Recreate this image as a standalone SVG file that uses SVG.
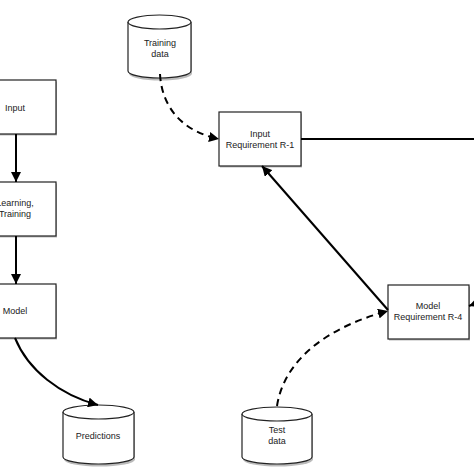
<svg xmlns="http://www.w3.org/2000/svg" width="474" height="474" viewBox="0 0 474 474">
<defs>
<marker id="ah" viewBox="0 0 10 10" refX="10" refY="5" markerWidth="5" markerHeight="5" orient="auto" markerUnits="strokeWidth">
<path d="M0,0 L10,5 L0,10 Z" fill="#000"/>
</marker>
</defs>
<style>
.box{fill:#fff;stroke:#222;stroke-width:1.2}
.shadow{fill:#bbb;stroke:none}
.t{font-family:"Liberation Sans",Arial,sans-serif;font-size:9px;fill:#222;text-anchor:middle}
.c{fill:none;stroke:#000;stroke-width:2}
.d{fill:none;stroke:#000;stroke-width:2;stroke-dasharray:7,5}
</style>
<rect width="474" height="474" fill="#fff"/>
<g id="input">
<rect class="shadow" x="-26" y="81.5" width="83" height="54"/>
<rect class="box" x="-27" y="80" width="83" height="54"/>
<text class="t" x="15" y="111">Input</text>
</g>
<g id="learning">
<rect class="shadow" x="-26" y="183.5" width="83" height="54"/>
<rect class="box" x="-27" y="182" width="83" height="54"/>
<text class="t" x="15" y="206">Learning,</text>
<text class="t" x="15" y="217">Training</text>
</g>
<g id="model">
<rect class="shadow" x="-26" y="285.5" width="83" height="54"/>
<rect class="box" x="-27" y="284" width="83" height="54"/>
<text class="t" x="15" y="314">Model</text>
</g>
<g id="req1">
<rect class="shadow" x="220" y="113.5" width="82" height="54"/>
<rect class="box" x="219" y="112" width="82" height="54"/>
<text class="t" x="260" y="137">Input</text>
<text class="t" x="260" y="148">Requirement R-1</text>
</g>
<g id="req4">
<rect class="shadow" x="389" y="286.5" width="81" height="54"/>
<rect class="box" x="388" y="285" width="81" height="54"/>
<text class="t" x="428" y="309">Model</text>
<text class="t" x="428" y="320">Requirement R-4</text>
</g>
<g id="training-data">
<path class="shadow" d="M129,22 V72 A31,7 0 0 0 192,72 V22 Z" transform="translate(0,1.5)"/>
<path class="box" d="M128,22 V71 A31.5,7 0 0 0 191,71 V22"/>
<ellipse class="box" cx="159.5" cy="22" rx="31.5" ry="7"/>
<text class="t" x="160" y="46">Training</text>
<text class="t" x="160" y="57">data</text>
</g>
<g id="test-data">
<path class="shadow" d="M243,414 V458 A35,7 0 0 0 313,458 V414 Z" transform="translate(0,1.5)"/>
<path class="box" d="M242,414 V457 A35,7 0 0 0 312,457 V414"/>
<ellipse class="box" cx="277" cy="414" rx="35" ry="7"/>
<text class="t" x="277" y="433">Test</text>
<text class="t" x="277" y="444">data</text>
</g>
<g id="predictions">
<path class="shadow" d="M64,412 V458 A35.5,7 0 0 0 135,458 V412 Z" transform="translate(0,1.5)"/>
<path class="box" d="M63,412 V457 A35.5,7 0 0 0 134,457 V412"/>
<ellipse class="box" cx="98.5" cy="412" rx="35.5" ry="7"/>
<text class="t" x="98" y="439">Predictions</text>
</g>
<g id="connectors">
<line class="c" x1="16" y1="134" x2="16" y2="182" marker-end="url(#ah)"/>
<line class="c" x1="16" y1="236" x2="16" y2="284" marker-end="url(#ah)"/>
<path class="c" d="M15,338 C28,370 60,395 98,405" marker-end="url(#ah)"/>
<line class="c" x1="301" y1="139" x2="476" y2="139"/>
<line class="c" x1="388" y1="310" x2="262" y2="166" marker-end="url(#ah)"/>
<path class="d" d="M160,74 C162,110 185,132 219,139" marker-end="url(#ah)"/>
<path class="d" d="M277,406 C285,355 335,325 388,311" marker-end="url(#ah)"/>
<path class="c" d="M482,300 C478,302 474,304 469,306" marker-end="url(#ah)"/>
</g>
</svg>
